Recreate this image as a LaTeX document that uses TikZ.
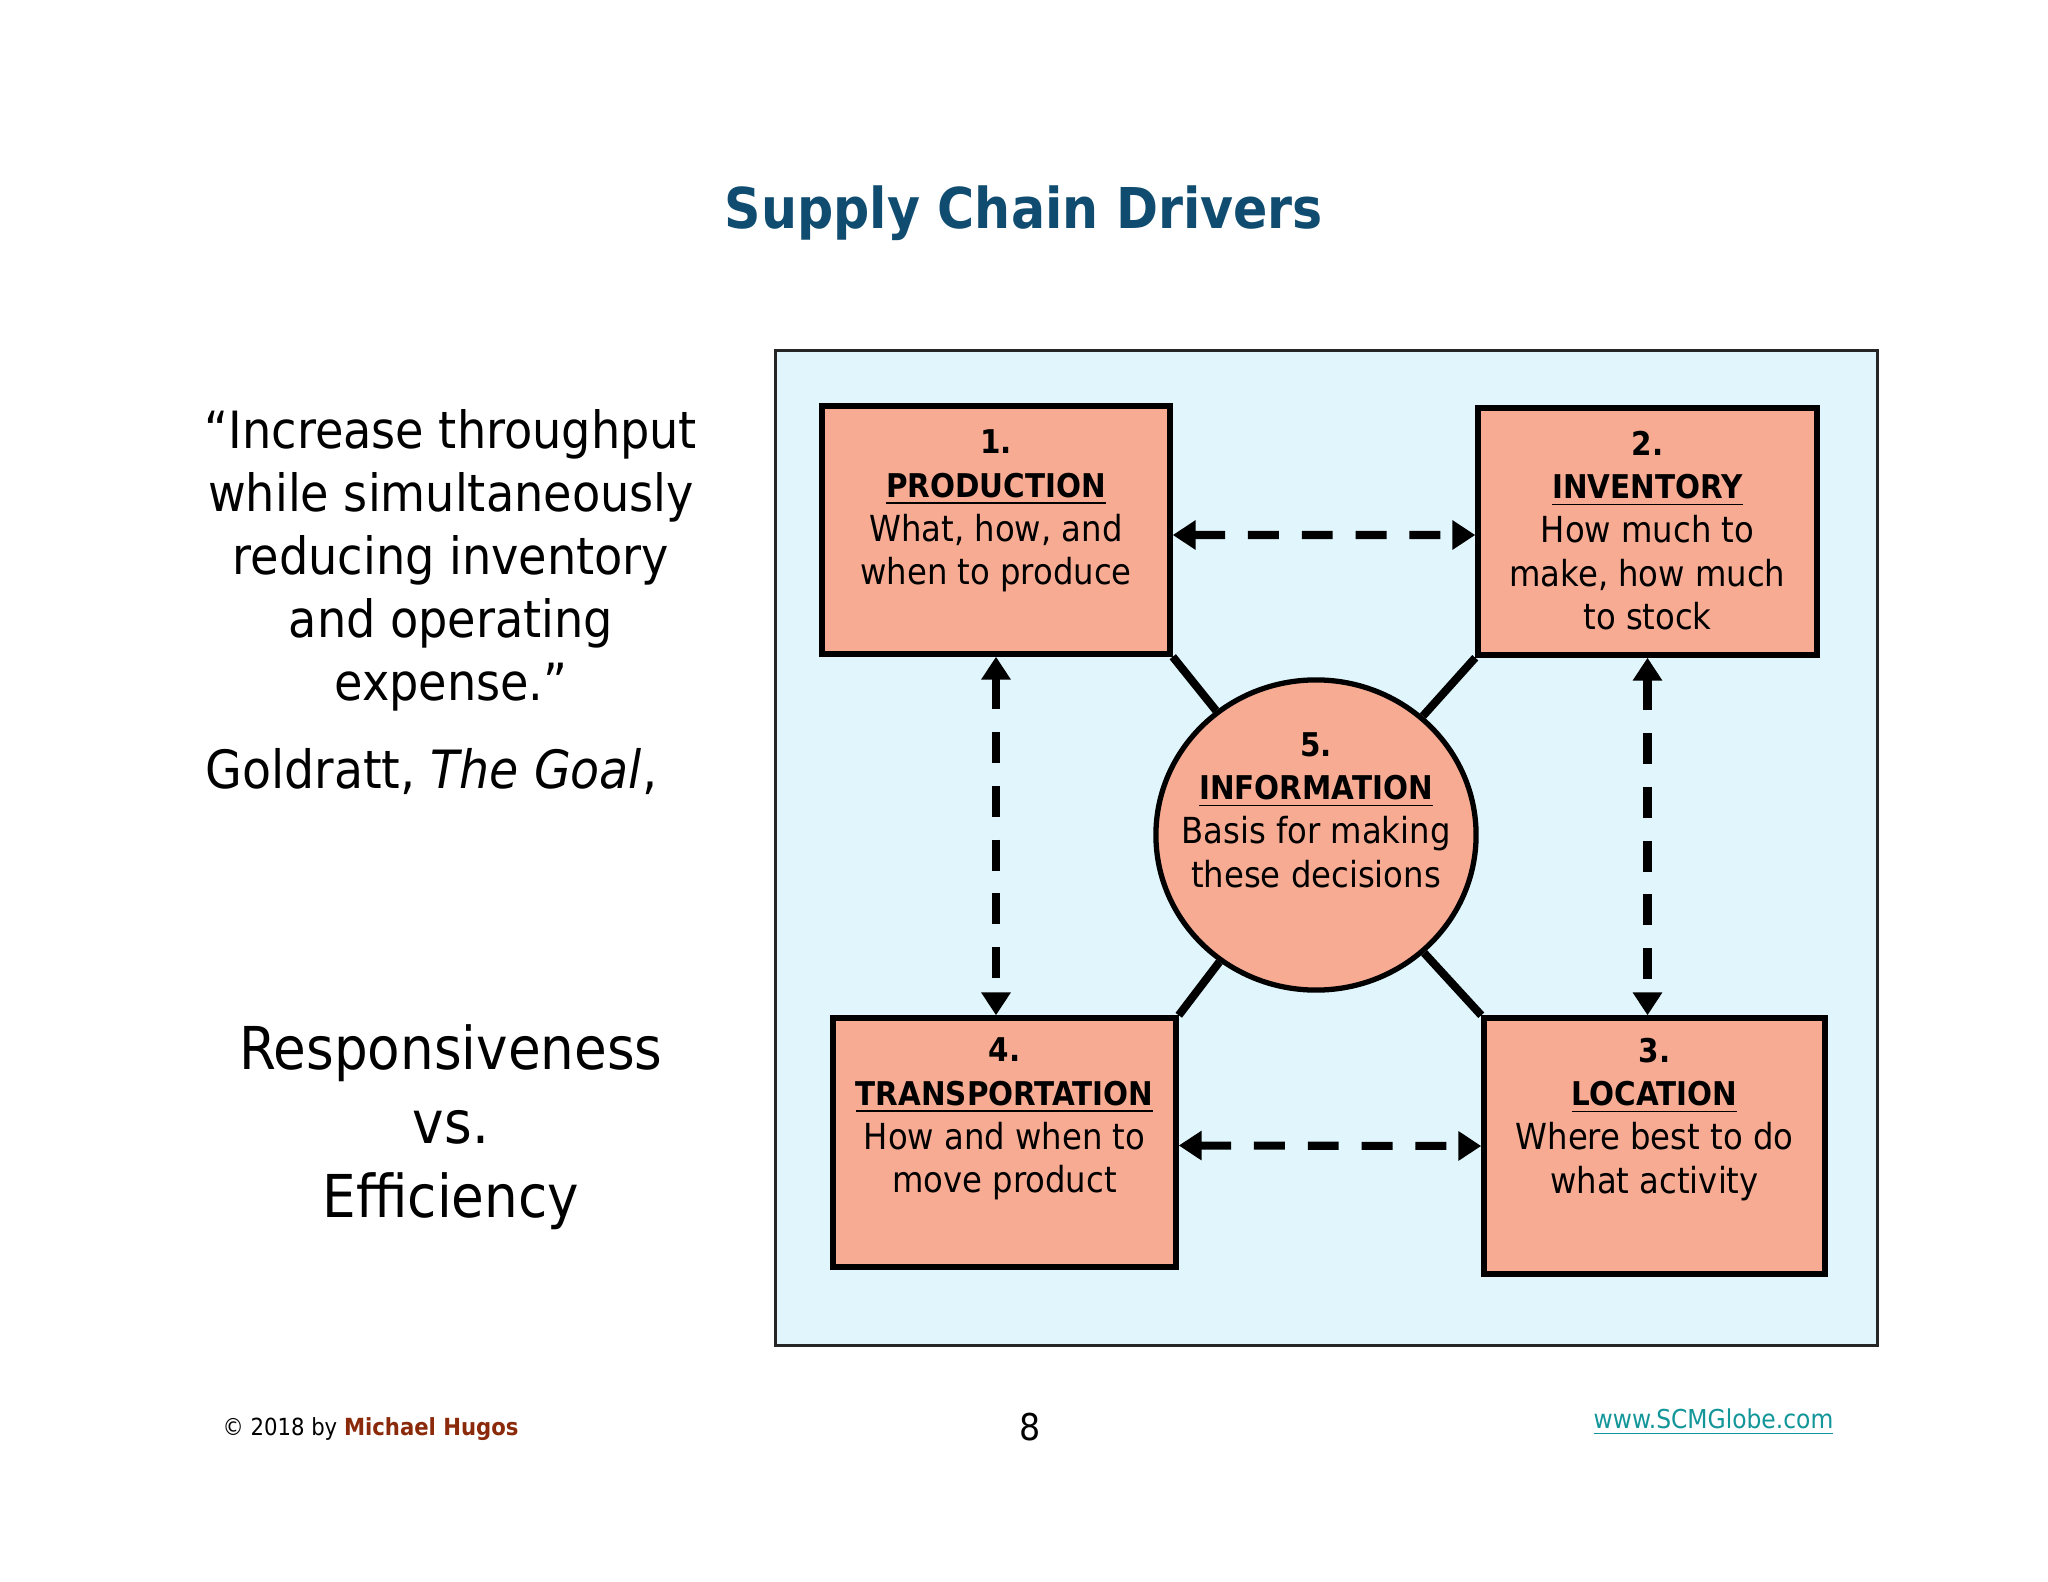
\documentclass[tikz,border=0pt]{standalone}
\usepackage{fontspec}
\IfFontExistsTF{DejaVu Sans Condensed}{\setmainfont{DejaVu Sans Condensed}}{\setmainfont{PT Sans}}
\usepackage{xcolor}
\usetikzlibrary{positioning, arrows.meta, shapes.geometric}
\definecolor{dTitle}{HTML}{0F4C70}
\definecolor{dPanel}{HTML}{E0F6FC}
\definecolor{dFill}{HTML}{F7AB93}
\definecolor{dRed}{HTML}{8B2A0A}
\definecolor{dLink}{HTML}{13969A}
\newcommand{\drvhead}[1]{{\fontsize{9.3}{12.4}\selectfont\bfseries #1}}
\tikzset{
  driver/.style={draw=black, line width=1.5pt, fill=dFill, inner sep=0pt},
  drvtext/.style={anchor=north, align=center, inner sep=0pt, font=\fontsize{10.2}{12.4}\selectfont},
  link/.style={{Triangle[length=6.5pt,width=8pt]}-{Triangle[length=6.5pt,width=8pt]}, line width=2.3pt, dash pattern=on 8.8pt off 6.5pt},
  spoke/.style={line width=2.3pt}
}

\begin{document}
\begin{tikzpicture}[x=0.01cm, y=-0.01cm]
  \useasboundingbox[fill=white] (0,0) rectangle (2048,1582);
  \node[font=\fontsize{16}{20}\selectfont\bfseries, text=dTitle] (title) at (1024,213) {Supply Chain Drivers};
  \node[align=center, font=\fontsize{14.6}{17.9}\selectfont] (quote) at (451,560) {“Increase throughput\\while simultaneously\\reducing inventory\\and operating\\expense.”};
  \node[anchor=west, inner sep=0pt, font=\fontsize{15}{17.9}\selectfont] (cite) at (205,772) {Goldratt, \textit{The Goal},};
  \node[align=center, font=\fontsize{16.8}{21}\selectfont] (trade) at (451,1127) {Responsiveness\\vs.\\Efficiency};
  \node[draw=black!85, line width=0.7pt, fill=dPanel, inner sep=0pt,
    minimum width=11.01cm, minimum height=9.94cm] (panel) at (1326.5,848) {};
  \node[driver, minimum width=3.48cm, minimum height=2.48cm] (prod) at (996,530) {};
  \node[driver, minimum width=3.39cm, minimum height=2.47cm] (inv) at (1647.5,531.5) {};
  \node[driver, minimum width=3.43cm, minimum height=2.49cm] (trans) at (1004.5,1142.5) {};
  \node[driver, minimum width=3.41cm, minimum height=2.56cm] (loc) at (1654.5,1146) {};
  \node[driver, ellipse, minimum width=3.2cm, minimum height=3.1cm] (info) at (1316,835) {};
  \node[drvtext, yshift=-0.26cm] (prodtxt) at (prod.north) {\drvhead{1.}\\\drvhead{\underline{PRODUCTION}}\\What, how, and\\when to produce};
  \node[drvtext, yshift=-0.25cm] (invtxt) at (inv.north) {\drvhead{2.}\\\drvhead{\underline{INVENTORY}}\\How much to\\make, how much\\to stock};
  \node[drvtext, yshift=-0.22cm] (transtxt) at (trans.north) {\drvhead{4.}\\\drvhead{\underline{TRANSPORTATION}}\\How and when to\\move product};
  \node[drvtext, yshift=-0.22cm] (loctxt) at (loc.north) {\drvhead{3.}\\\drvhead{\underline{LOCATION}}\\Where best to do\\what activity};
  \node[drvtext, anchor=center] (infotxt) at (1316,810) {\drvhead{5.}\\\drvhead{\underline{INFORMATION}}\\Basis for making\\these decisions};
  \draw[spoke] (prod.south east) -- (info);
  \draw[spoke] (inv.south west) -- (info);
  \draw[spoke] (trans.north east) -- (info);
  \draw[spoke] (loc.north west) -- (info);
  \draw[link] ([yshift=-0.05cm]prod.east) -- ([yshift=-0.035cm]inv.west);
  \draw[link] ([yshift=-0.03cm]trans.east) -- (loc.west);
  \draw[link] (prod.south) -- (prod.south |- trans.north);
  \draw[link] (inv.south) -- (inv.south |- loc.north);
  \node[anchor=west, inner sep=0pt, font=\fontsize{6.7}{9}\selectfont] (copy) at (222,1429) {© 2018 by \textcolor{dRed}{\bfseries Michael Hugos}};
  \node[font=\fontsize{10.5}{12}\selectfont] (page) at (1030,1427) {8};
  \node[anchor=east, inner sep=0pt, text=dLink, font=\fontsize{7.4}{9}\selectfont] (web) at (1834,1422) {\underline{www.SCMGlobe.com}};
\end{tikzpicture}
\end{document}
